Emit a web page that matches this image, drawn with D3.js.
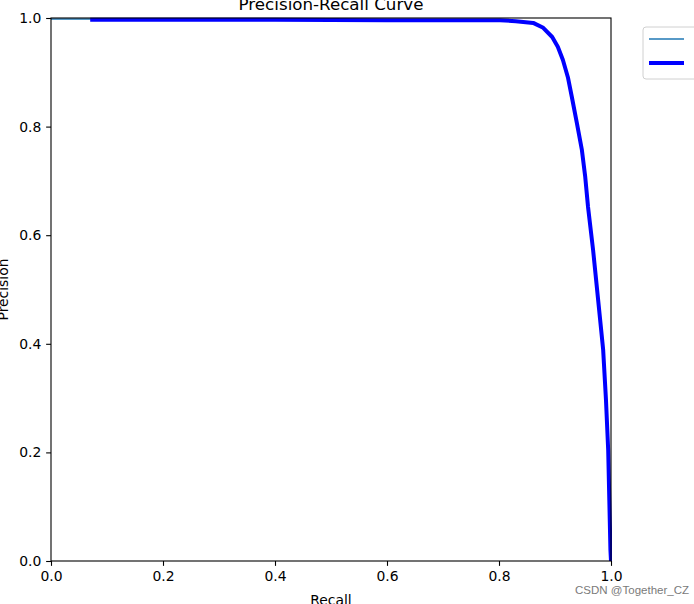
<!DOCTYPE html>
<html>
<head>
<meta charset="utf-8">
<script src="https://cdn.jsdelivr.net/npm/d3@7"></script>
<style>
  html, body { margin: 0; padding: 0; background: #fff; overflow: hidden; }
  svg { display: block; font-family: 'DejaVu Sans', sans-serif; }
</style>
</head>
<body>
<div id="chart"></div>
<script>
// data
const titleText = 'Precision-Recall Curve';
const xLabel = 'Recall';
const yLabel = 'Precision';
const tickValues = [0, 0.2, 0.4, 0.6, 0.8, 1.0];

// thin default-coloured curve (mostly hidden under the thick one)
const thinRecall = [0.0, 0.07, 0.2, 0.4, 0.6, 0.75, 0.802, 0.83, 0.861, 0.879, 0.895, 0.905, 0.914, 0.923,
  0.93, 0.939, 0.948, 0.954, 0.959, 0.968, 0.977, 0.986, 0.991, 0.995, 0.997, 0.999, 1.0];
const thinPrecision = [0.998, 0.998, 0.998, 0.997, 0.997, 0.996, 0.996, 0.994, 0.991, 0.982, 0.965, 0.947, 0.923, 0.891,
  0.855, 0.807, 0.757, 0.707, 0.652, 0.573, 0.481, 0.389, 0.297, 0.204, 0.112, 0.02, 0.0];

// thick blue curve
const thickRecall = [0.07, 0.2, 0.4, 0.6, 0.75, 0.802, 0.83, 0.861, 0.879, 0.895, 0.905, 0.914, 0.923,
  0.93, 0.939, 0.948, 0.954, 0.959, 0.968, 0.977, 0.986, 0.991, 0.995, 0.997, 0.999, 1.0];
const thickPrecision = [0.997, 0.997, 0.997, 0.996, 0.996, 0.996, 0.994, 0.991, 0.982, 0.965, 0.947, 0.923, 0.891,
  0.855, 0.807, 0.757, 0.707, 0.652, 0.573, 0.481, 0.389, 0.297, 0.204, 0.112, 0.02, 0.0];

const watermark = 'CSDN @Together_CZ';

const fullWidth = 694;
const fullHeight = 604;
const margin = { top: 18, right: 83, bottom: 43, left: 51 };
const width = fullWidth - margin.left - margin.right;
const height = fullHeight - margin.top - margin.bottom;
const fontSize = 13.9;
const tickLen = 4.86;

const svgRoot = d3.select('#chart').append('svg')
  .attr('width', fullWidth)
  .attr('height', fullHeight);

const svg = svgRoot.append('g')
  .attr('transform', `translate(${margin.left},${margin.top})`);

const x = d3.scaleLinear().domain([0, 1]).range([0, width]);
const y = d3.scaleLinear().domain([0, 1]).range([height, 0]);

svg.append('clipPath')
  .attr('id', 'plotClip')
  .append('rect')
  .attr('x', 0)
  .attr('y', -1)
  .attr('width', width + 1)
  .attr('height', height + 2);

const line = d3.line()
  .x(d => x(d[0]))
  .y(d => y(d[1]));

const series = [
  { id: 'thin', values: d3.zip(thinRecall, thinPrecision), color: '#1f77b4', w: 1.5 },
  { id: 'thick', values: d3.zip(thickRecall, thickPrecision), color: '#0000ff', w: 4 },
];

svg.append('g')
  .attr('clip-path', 'url(#plotClip)')
  .selectAll('.line')
  .data(series)
  .enter()
  .append('path')
  .attr('class', 'line')
  .attr('d', d => line(d.values))
  .style('fill', 'none')
  .style('stroke', d => d.color)
  .style('stroke-width', d => d.w)
  .style('stroke-linejoin', 'round')
  .style('stroke-linecap', 'butt');

// axes
const fmt = d3.format('.1f');
const xAxis = d3.axisBottom(x)
  .tickValues(tickValues)
  .tickFormat(fmt)
  .tickSizeInner(tickLen)
  .tickSizeOuter(0)
  .tickPadding(4.86);
const yAxis = d3.axisLeft(y)
  .tickValues(tickValues)
  .tickFormat(fmt)
  .tickSizeInner(tickLen)
  .tickSizeOuter(0)
  .tickPadding(4.86);

svg.append('g')
  .attr('class', 'x axis')
  .attr('transform', `translate(0,${height})`)
  .call(xAxis);
svg.append('g')
  .attr('class', 'y axis')
  .call(yAxis);

svg.selectAll('.axis .domain').remove();
svg.selectAll('.axis line')
  .style('stroke', '#000')
  .style('stroke-width', 1.1);
svg.selectAll('.axis text')
  .style('font-size', `${fontSize}px`)
  .style('font-family', "'DejaVu Sans', sans-serif")
  .style('fill', '#000');

// spines
svg.append('rect')
  .attr('x', 0)
  .attr('y', 0)
  .attr('width', width)
  .attr('height', height)
  .style('fill', 'none')
  .style('stroke', '#000')
  .style('stroke-width', 1.1);

// title and labels (cut by the picture's edges, as in the original)
svg.append('text')
  .attr('x', width / 2)
  .attr('y', -8)
  .attr('text-anchor', 'middle')
  .style('font-size', '16.7px')
  .text(titleText);

svg.append('text')
  .attr('x', width / 2)
  .attr('y', height + 44)
  .attr('text-anchor', 'middle')
  .style('font-size', `${fontSize}px`)
  .text(xLabel);

svgRoot.append('text')
  .attr('transform', `translate(8,${margin.top + height / 2}) rotate(-90)`)
  .attr('text-anchor', 'middle')
  .style('font-size', `${fontSize}px`)
  .text(yLabel);

// legend (no labels, box runs off the right edge)
const legend = svgRoot.append('g')
  .attr('transform', 'translate(643,27)');
legend.append('rect')
  .attr('width', 70)
  .attr('height', 52)
  .attr('rx', 3)
  .style('fill', '#fff')
  .style('fill-opacity', 0.8)
  .style('stroke', '#d0d0d0')
  .style('stroke-width', 1);
legend.selectAll('.legLine')
  .data(series)
  .enter()
  .append('line')
  .attr('class', 'legLine')
  .attr('x1', 6)
  .attr('x2', 41)
  .attr('y1', (d, i) => 12 + i * 24)
  .attr('y2', (d, i) => 12 + i * 24)
  .style('stroke', d => d.color)
  .style('stroke-width', d => d.w);

// watermark
svgRoot.append('text')
  .attr('x', 689)
  .attr('y', 594)
  .attr('text-anchor', 'end')
  .style('font-family', "'Liberation Sans', sans-serif")
  .style('font-size', '11.5px')
  .style('fill', '#7a7a7a')
  .text(watermark);
</script>
</body>
</html>
